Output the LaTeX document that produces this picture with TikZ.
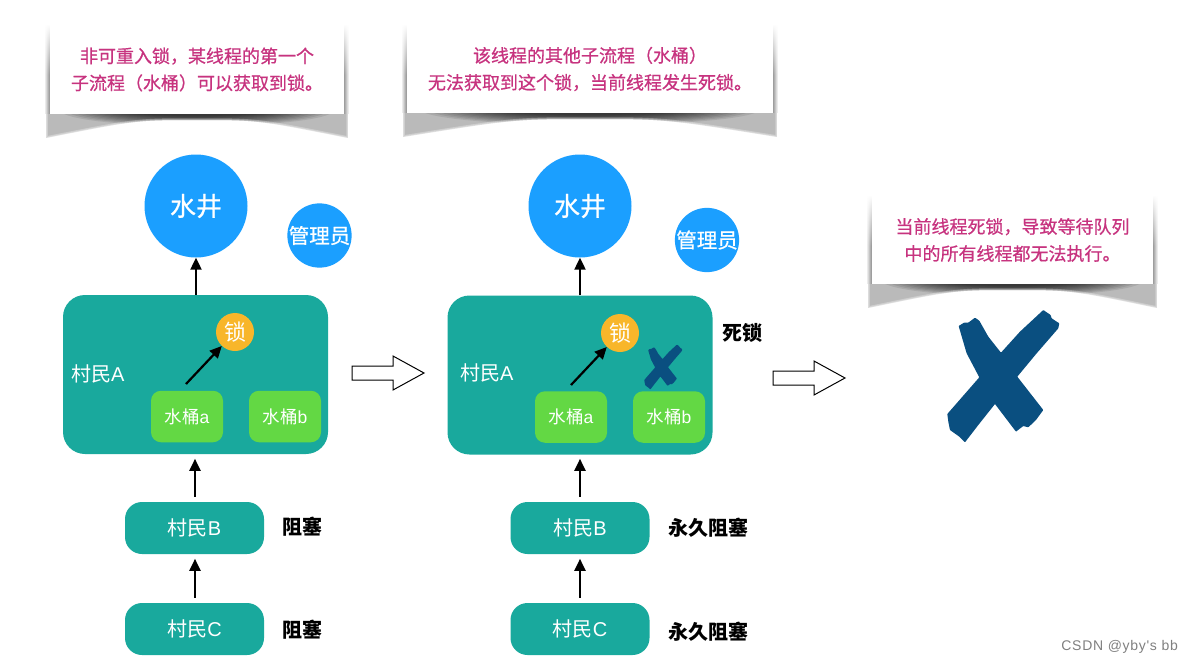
\documentclass[tikz,border=0pt]{standalone}
\usepackage{fontspec}
\setmainfont{Liberation Sans}
\newfontfamily\cjk{Noto Sans CJK SC}
\newfontfamily\cjkm[FakeBold=0.7]{Noto Sans CJK SC}
\newfontfamily\wmfont[LetterSpace=5]{Liberation Sans}
\usetikzlibrary{arrows.meta,fadings}
\definecolor{teal1}{HTML}{19A99D}
\definecolor{green1}{HTML}{63D844}
\definecolor{lock1}{HTML}{F8B62A}
\definecolor{blue1}{HTML}{1B9FFF}
\definecolor{cross1}{HTML}{0A4F80}
\definecolor{pink1}{HTML}{C7337F}
\tikzset{
  circ/.style={circle,fill=#1,inner sep=0pt,text=white},
  rbox/.style={rectangle,rounded corners=#1,inner sep=0pt,text=white},
  well/.style={circ=blue1,minimum size=103pt,font=\cjkm\fontsize{26}{26}\selectfont},
  manager/.style={circ=blue1,minimum size=62pt,font=\cjkm\fontsize{20.5}{24}\selectfont},
  lockc/.style={circ=lock1,minimum size=38pt,font=\cjk\fontsize{22}{24}\selectfont},
  village/.style={rbox=22pt,fill=teal1,minimum width=265pt,minimum height=159pt},
  bucket/.style={rbox=10pt,fill=green1,minimum width=72pt,minimum height=51.5pt,font=\cjk\fontsize{17.5}{20}\selectfont},
  person/.style={rbox=17pt,fill=teal1,minimum width=139pt,minimum height=52pt,font=\cjk\fontsize{20}{22}\selectfont},
  lbl/.style={text=white,inner sep=0pt,font=\cjk\fontsize{20}{22}\selectfont},
  status/.style={inner sep=0pt,text=black,font=\cjk\fontsize{20}{24}\selectfont\bfseries},
  callout/.style={fill=white,inner sep=0pt,align=center,text=pink1,font=\cjkm\fontsize{18}{27}\selectfont},
  conn/.style={black,line width=2.2pt,-{Triangle[width=11pt,length=12pt]}},
  hollow/.style={draw=black,line width=1pt,fill=white},
}
\newcommand{\undershadow}[4]{% x0 x1 ybox ytop
  \pgfmathsetmacro{\xa}{#1-4}\pgfmathsetmacro{\xb}{#2+4}
  \pgfmathsetmacro{\xw}{\xb-\xa}
  \pgfmathsetmacro{\xm}{(#1+#2)/2}
  \pgfmathsetmacro{\yc}{#3+24}\pgfmathsetmacro{\ym}{#3+6}
  \pgfmathsetmacro{\xca}{\xa+\xw*0.30}\pgfmathsetmacro{\xcb}{\xb-\xw*0.30}
  \begin{scope}
  \clip (\xa,#3) -- (\xb,#3) -- (\xb,\yc)
    .. controls (\xcb,\ym) and (\xcb,\ym) .. (\xm,\ym)
    .. controls (\xca,\ym) and (\xca,\ym) .. (\xa,\yc) -- cycle;
  \fill[black!27] (\xa,#3) rectangle (\xb,\yc);
  \foreach \k in {0,...,11}{
    \pgfmathsetmacro{\lx}{\xa+\xw*(0.06+0.022*\k)}
    \pgfmathsetmacro{\rx}{\xb-\xw*(0.06+0.022*\k)}
    \pgfmathsetmacro{\lh}{#3+16-1.2*\k}
    \fill[black,opacity=.09] (\lx,#3) .. controls (\lx+\xw*0.12,\lh) and (\rx-\xw*0.12,\lh) .. (\rx,#3) -- cycle;
  }
  \end{scope}
  \draw[white,opacity=.3,line width=3.5pt]
    (\xb,#3) -- (\xb,\yc)
    .. controls (\xcb,\ym) and (\xcb,\ym) .. (\xm,\ym)
    .. controls (\xca,\ym) and (\xca,\ym) .. (\xa,\yc) -- (\xa,#3);
  \draw[white,opacity=.3,line width=1.5pt]
    (\xb,#3) -- (\xb,\yc)
    .. controls (\xcb,\ym) and (\xcb,\ym) .. (\xm,\ym)
    .. controls (\xca,\ym) and (\xca,\ym) .. (\xa,\yc) -- (\xa,#3);
  \foreach \i/\g in {0/8,1/15,2/23,3/31,4/38}{
    \fill[black!\g] (#1-5+\i,#4) rectangle (#1-4+\i+.05,#3);
    \fill[black!\g] (#2+5-\i,#4) rectangle (#2+4-\i-.05,#3);
  }
  \fill[white,path fading=south] (#1-5.5,#4-1) rectangle (#1,#4+50);
  \fill[white,path fading=south] (#2,#4-1) rectangle (#2+5.5,#4+50);
}
\newcommand{\crossat}[3]{%
  \begin{scope}[shift={(#1,#2)},x=#3pt,y=-#3pt]
  \fill[cross1,rounded corners=.6pt,shift={(-430,-558)}]
   (296,408) -- (312,398) -- (325,398) -- (345,383) -- (358,392) -- (385,440) -- (423,488)
   -- (480,425) -- (550,360) -- (572,375) -- (575,385) -- (598,400) -- (595,415) -- (530,490)
   -- (472,560) -- (550,660) -- (528,690) -- (505,712) -- (490,708) -- (468,725) -- (405,642)
   -- (355,705) -- (315,757) -- (298,740) -- (270,720) -- (265,695) -- (262,672) -- (358,562)
   -- (320,490) -- cycle;
  \end{scope}}
\newcommand{\hollowarrow}[2]{% x y(center)
  \begin{scope}[shift={(#1,#2)}]
  \draw[hollow] (0,-7) -- (41,-7) -- (41,-17) -- (72,0) -- (41,17) -- (41,7) -- (0,7) -- cycle;
  \end{scope}}
\begin{document}
\begin{tikzpicture}[x=1pt,y=-1pt]
\useasboundingbox (0,0) rectangle (1192,664);
\fill[white] (0,0) rectangle (1192,664);
% callouts
\undershadow{50}{344}{114}{25}
\node[callout,minimum width=294pt,minimum height=89pt] (c1) at (197,69.5) {非可重入锁，某线程的第一个\\子流程（水桶）可以获取到锁。};
\undershadow{407}{773}{113}{25}
\node[callout,minimum width=366pt,minimum height=88pt] (c2) at (590,69) {该线程的其他子流程（水桶）\\无法获取到这个锁，当前线程发生死锁。};
\undershadow{872}{1153}{284}{196}
\node[callout,minimum width=281pt,minimum height=88pt] (c3) at (1012.5,240) {当前线程死锁，导致等待队列\\中的所有线程都无法执行。};
% left column
\node[well] (w1) at (196,206) {水井};
\node[manager] (m1) at (319.5,235.5) {管理员};
\node[village] (v1) at (195.5,374.5) {};
\node[lbl,anchor=west] (va1) at (71,374) {村民{\rmfamily A}};
\node[lockc] (l1) at (235,332) {锁};
\node[bucket] (ba1) at (187,416.5) {水桶{\rmfamily a}};
\node[bucket] (bb1) at (285,416.5) {水桶{\rmfamily b}};
\node[person] (pb1) at (194.5,528) {村民{\rmfamily B}};
\node[person] (pc1) at (194.5,629) {村民{\rmfamily C}};
\node[status,anchor=west] (s1) at (282,527) {阻塞};
\node[status,anchor=west] (s2) at (282,630) {阻塞};
\coordinate (as1) at (186,384);
% middle column
\node[well] (w2) at (580,206) {水井};
\node[manager] (m2) at (707,240) {管理员};
\node[village] (v2) at (580,375) {};
\node[lbl,anchor=west] (va2) at (460,373) {村民{\rmfamily A}};
\node[lockc] (l2) at (620,333) {锁};
\node[bucket] (ba2) at (571,417) {水桶{\rmfamily a}};
\node[bucket] (bb2) at (669,417) {水桶{\rmfamily b}};
\node[person] (pb2) at (580,528) {村民{\rmfamily B}};
\node[person] (pc2) at (580,629) {村民{\rmfamily C}};
\node[status,anchor=west] (s3) at (668,528) {永久阻塞};
\node[status,anchor=west] (s4) at (668,632) {永久阻塞};
\node[status,anchor=west] (s5) at (722,333) {死锁};
\coordinate (as2) at (571,385);
% connectors
\draw[conn] (pc1.north) ++(0.5,-5) -- ++(0,-39);
\draw[conn] (pb1.north) ++(0.5,-5) -- ++(0,-38);
\draw[conn] (w1.south |- v1.north) -- (w1.south);
\draw[conn] (as1) -- (l1);
\draw[conn] (pc2.north) ++(0,-5) -- ++(0,-39);
\draw[conn] (pb2.north) ++(0,-5) -- ++(0,-38);
\draw[conn] (v2.north) -- (w2.south);
\draw[conn] (as2) -- (l2);
% crosses & hollow arrows
\crossat{663.3}{367}{0.113}
\crossat{1003.3}{376}{0.3333}
\hollowarrow{352}{373}
\hollowarrow{773}{378}
\node[inner sep=0pt,anchor=east,text=black!50,font=\wmfont\fontsize{14}{16}\selectfont] (wm) at (1178,647) {CSDN @yby's bb};
\end{tikzpicture}
\end{document}
